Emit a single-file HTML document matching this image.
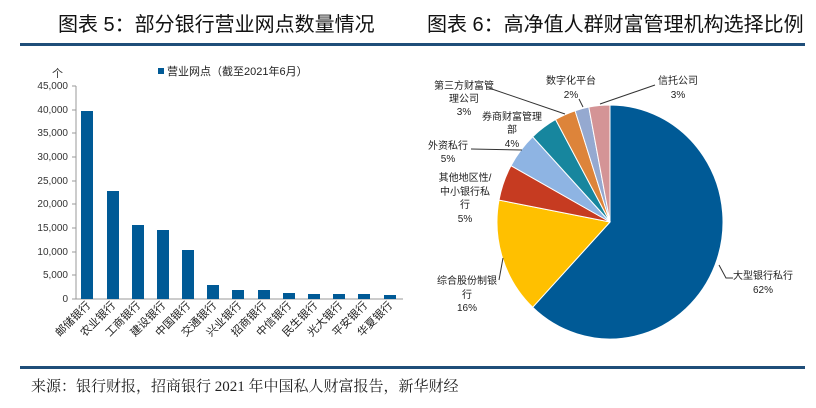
<!DOCTYPE html>
<html><head><meta charset="utf-8"><style>
body{margin:0;background:#fff;}
svg{display:block;}
</style></head><body>
<svg width="816" height="408" xmlns="http://www.w3.org/2000/svg" font-family="'Liberation Sans','Noto Sans CJK SC',sans-serif">
<text x="58" y="31" font-size="20" fill="#111">图表 5：部分银行营业网点数量情况</text>
<text x="427" y="31" font-size="20" fill="#111">图表 6：高净值人群财富管理机构选择比例</text>
<rect x="20" y="43" width="785" height="3" fill="#1f4e79"/>
<rect x="20" y="366" width="785" height="3" fill="#1f4e79"/>
<text x="31" y="391" font-size="15" fill="#222" font-family="'Liberation Serif','Noto Serif CJK SC',serif">来源：银行财报，招商银行 2021 年中国私人财富报告，新华财经</text>

<g font-size="10" fill="#333" text-anchor="end">
<text x="68" y="89">45,000</text>
<text x="68" y="113">40,000</text>
<text x="68" y="136">35,000</text>
<text x="68" y="160">30,000</text>
<text x="68" y="184">25,000</text>
<text x="68" y="207">20,000</text>
<text x="68" y="231">15,000</text>
<text x="68" y="255">10,000</text>
<text x="68" y="278">5,000</text>
<text x="68" y="302">0</text>
</g>
<text x="52" y="77" font-size="11" fill="#333">个</text>
<rect x="158" y="68" width="6" height="6" fill="#005a96"/>
<text x="167" y="75" font-size="11" fill="#222">营业网点（截至2021年6月）</text>
<line x1="76" y1="86" x2="76" y2="299" stroke="#999"/>
<line x1="76" y1="299" x2="403" y2="299" stroke="#999"/>
<g stroke="#999">
<line x1="72" y1="86" x2="76" y2="86"/><line x1="72" y1="110" x2="76" y2="110"/><line x1="72" y1="133" x2="76" y2="133"/><line x1="72" y1="157" x2="76" y2="157"/><line x1="72" y1="181" x2="76" y2="181"/><line x1="72" y1="204" x2="76" y2="204"/><line x1="72" y1="228" x2="76" y2="228"/><line x1="72" y1="252" x2="76" y2="252"/><line x1="72" y1="275" x2="76" y2="275"/><line x1="72" y1="299" x2="76" y2="299"/>
</g>
<g fill="#005a96">
<rect x="81" y="111" width="12" height="188"/>
<rect x="107" y="191" width="12" height="108"/>
<rect x="132" y="225" width="12" height="74"/>
<rect x="157" y="230" width="12" height="69"/>
<rect x="182" y="250" width="12" height="49"/>
<rect x="207" y="285" width="12" height="14"/>
<rect x="232" y="290" width="12" height="9"/>
<rect x="258" y="290" width="12" height="9"/>
<rect x="283" y="293" width="12" height="6"/>
<rect x="308" y="294" width="12" height="5"/>
<rect x="333" y="294" width="12" height="5"/>
<rect x="358" y="294" width="12" height="5"/>
<rect x="384" y="295" width="12" height="4"/>
</g>
<g font-size="11" fill="#222" text-anchor="end">
<text transform="translate(91,306) rotate(-45)">邮储银行</text>
<text transform="translate(116,306) rotate(-45)">农业银行</text>
<text transform="translate(141,306) rotate(-45)">工商银行</text>
<text transform="translate(166,306) rotate(-45)">建设银行</text>
<text transform="translate(191,306) rotate(-45)">中国银行</text>
<text transform="translate(217,306) rotate(-45)">交通银行</text>
<text transform="translate(242,306) rotate(-45)">兴业银行</text>
<text transform="translate(267,306) rotate(-45)">招商银行</text>
<text transform="translate(292,306) rotate(-45)">中信银行</text>
<text transform="translate(318,306) rotate(-45)">民生银行</text>
<text transform="translate(343,306) rotate(-45)">光大银行</text>
<text transform="translate(368,306) rotate(-45)">平安银行</text>
<text transform="translate(393,306) rotate(-45)">华夏银行</text>
</g>

<g stroke="#fff" stroke-width="1">
<path d="M610,222 L610,105 A113,117 0 1 1 532.65,307.29 Z" fill="#005a96"/>
<path d="M610,222 L532.65,307.29 A113,117 0 0 1 499.0,200.07 Z" fill="#ffc000"/>
<path d="M610,222 L499.0,200.07 A113,117 0 0 1 511.0,165.63 Z" fill="#c63b21"/>
<path d="M610,222 L511.0,165.63 A113,117 0 0 1 532.65,136.71 Z" fill="#8eb4e3"/>
<path d="M610,222 L532.65,136.71 A113,117 0 0 1 555.56,119.47 Z" fill="#17869e"/>
<path d="M610,222 L555.56,119.47 A113,117 0 0 1 575.08,110.72 Z" fill="#dd843a"/>
<path d="M610,222 L575.08,110.72 A113,117 0 0 1 588.82,107.07 Z" fill="#95a9d0"/>
<path d="M610,222 L588.82,107.07 A113,117 0 0 1 610,105 Z" fill="#d49496"/>
</g>
<g stroke="#333" fill="none" stroke-width="1">
<polyline points="719,265 726,278 733,278"/>
<polyline points="503,258 499,280"/>
<polyline points="471,149 522,150"/>
<polyline points="489,88 565,114"/>
<polyline points="579,99 583,107"/>
<polyline points="655,85 600,104"/>
</g>
<g font-size="10" fill="#222" text-anchor="middle">
<text x="763" y="279">大型银行私行</text><text x="763" y="293">62%</text>
<text x="467" y="284">综合股份制银</text><text x="467" y="298">行</text><text x="467" y="311">16%</text>
<text x="465" y="181">其他地区性/</text><text x="465" y="195">中小银行私</text><text x="465" y="208">行</text><text x="465" y="222">5%</text>
<text x="448" y="149">外资私行</text><text x="448" y="162">5%</text>
<text x="512" y="120">券商财富管理</text><text x="512" y="133">部</text><text x="512" y="147">4%</text>
<text x="464" y="89">第三方财富管</text><text x="464" y="102">理公司</text><text x="464" y="115">3%</text>
<text x="571" y="84">数字化平台</text><text x="571" y="98">2%</text>
<text x="678" y="84">信托公司</text><text x="678" y="98">3%</text>
</g>
</svg>
</body></html>
